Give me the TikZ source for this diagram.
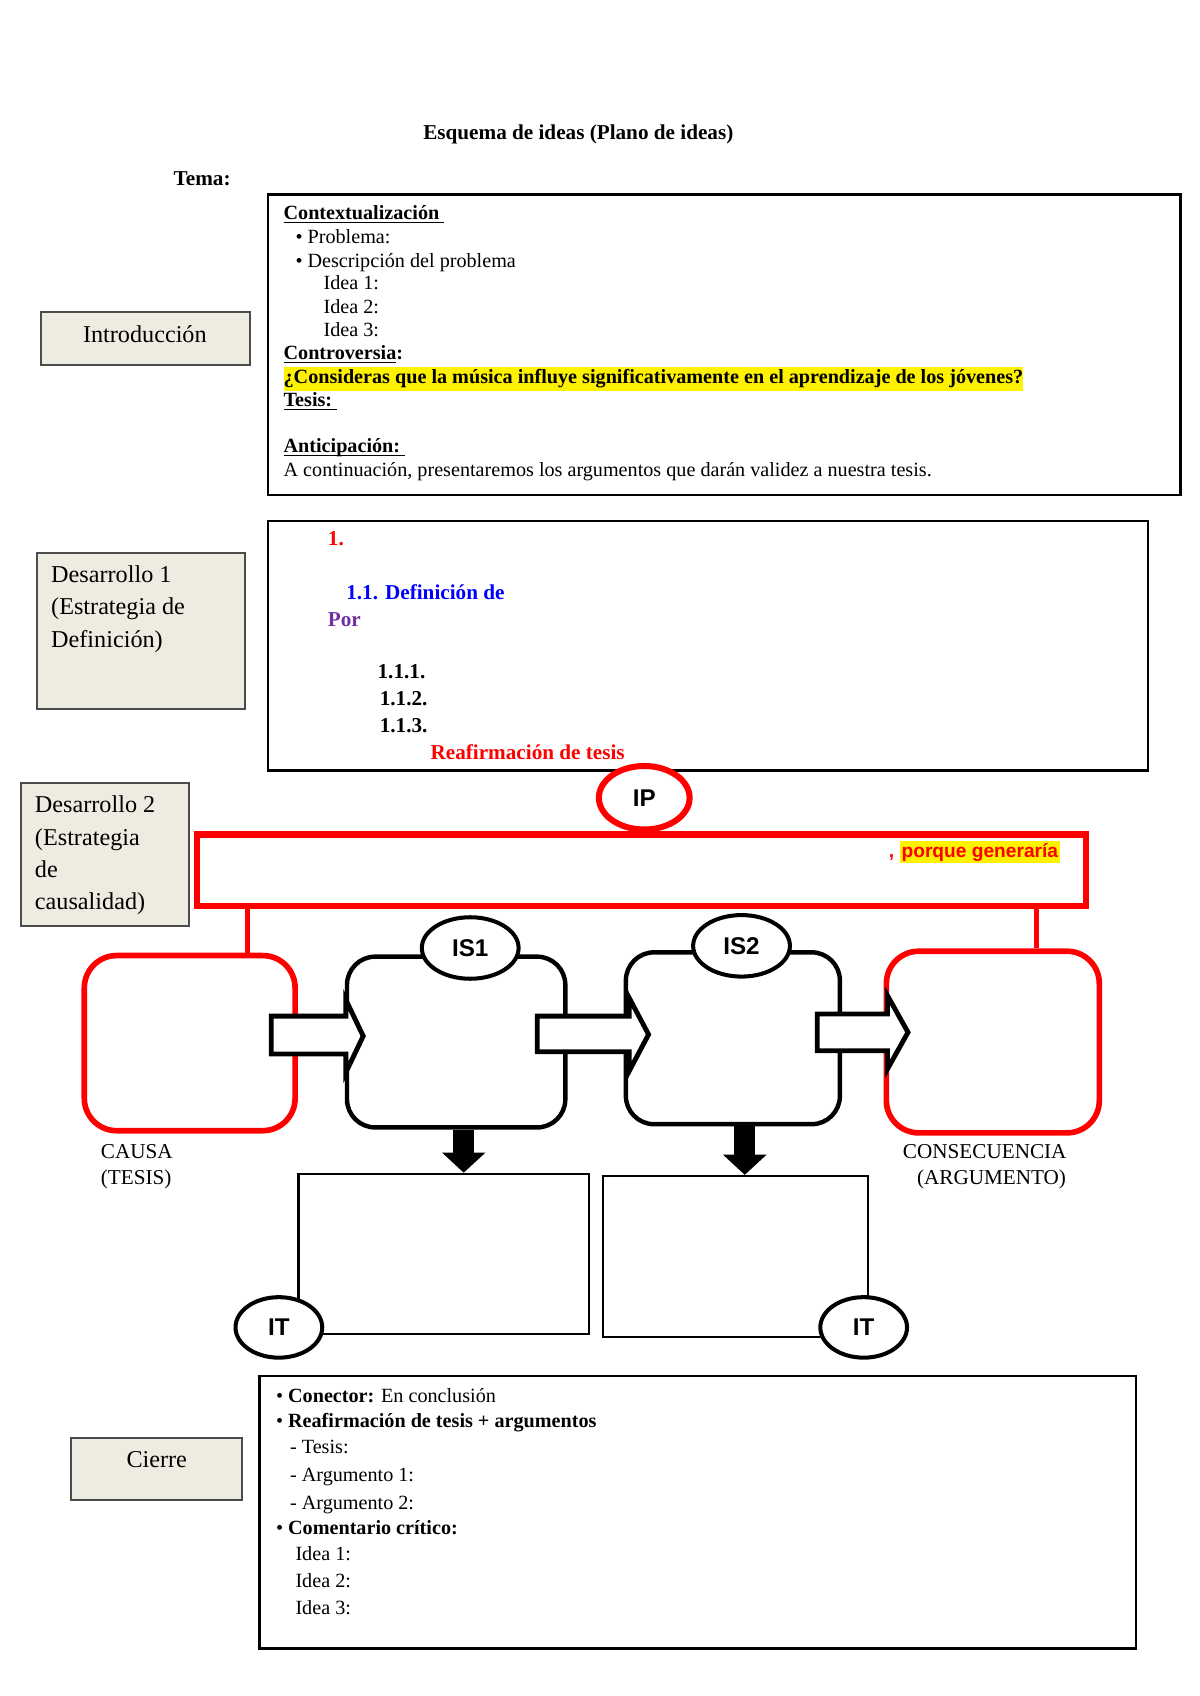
\documentclass[tikz,border=0pt]{standalone}
\usepackage{fontspec}
\setmainfont{Liberation Serif}
\newfontfamily\tagfont{Liberation Sans}
\usetikzlibrary{shapes.geometric,arrows.meta,fit}
\definecolor{boxbeige}{HTML}{EEECE1}
\definecolor{porpurple}{HTML}{7030A0}
\newcommand{\ulword}[1]{\underline{\smash{#1}}}
\tikzset{
  labelbox/.style={draw=black!70, line width=1pt, fill=boxbeige, inner sep=0pt},
  framebox/.style={draw, line width=1.4pt, inner sep=0pt},
  redframe/.style={draw=red, line width=3pt, inner sep=0pt},
  causebox/.style={draw=red, line width=2.8pt, rounded corners=16pt, inner sep=0pt},
  stepbox/.style={draw, line width=2.2pt, rounded corners=14pt, inner sep=0pt},
  itbox/.style={draw, line width=1.2pt, inner sep=0pt},
  tag/.style={ellipse, draw, fill=white, line width=2pt, inner sep=0pt,
    font=\tagfont\bfseries\fontsize{12}{13}\selectfont},
  txt/.style={anchor=base west, inner sep=0pt},
  bigtxt/.style={anchor=north west, inner sep=0pt, align=left, font=\fontsize{12}{16}\selectfont},
  blockarrow/.style={draw, fill=white, line width=2.4pt, line join=miter},
  downarrow/.style={line width=10.5pt, -{Triangle[width=21pt,length=10pt]}},
  redline/.style={draw=red, line width=2.5pt}
}
\begin{document}
\begin{tikzpicture}[x=0.536pt, y=-0.536pt, font=\fontsize{10}{12}\selectfont]
\useasboundingbox (0,0) rectangle (1110,1569);

% title
\node[font=\bfseries\fontsize{10.5}{12}\selectfont] (title) at (535,124) {Esquema de ideas (Plano de ideas)};
\node[font=\bfseries\fontsize{10.5}{12}\selectfont] (tema) at (187,165) {Tema:};

% introduccion
\node[labelbox, fit={(38,289) (231,338)}] (introlabel) {};
\node[font=\fontsize{12}{14}\selectfont] (introname) at (134,309) {Introducción};
\node[framebox, fit={(248,180) (1092,458)}] (intro) {};
\node[txt] (ctx) at (262,203) {\textbf{\ulword{Contextualización\ }}};
\node[txt] (prob) at (273,225) {\textbullet\ Problema:};
\node[txt] (desc) at (273,247) {\textbullet\ Descripción del problema};
\foreach \i/\y in {1/268, 2/290, 3/311}
  \node[txt] (idea\i) at (299,\y) {Idea \i:};
\node[txt] (contro) at (262,333) {\textbf{\ulword{Controversia}:}};
\node[txt, fill=yellow, inner ysep=1.5pt] (quest) at (262,355)
  {\textbf{¿Consideras que la música influye significativamente en el aprendizaje de los jóvenes?}};
\node[txt] (tesis) at (262,376) {\textbf{\ulword{Tesis:\ }}};
\node[txt] (antic) at (262,419) {\textbf{\ulword{Anticipación:\ }}};
\node[txt] (antxt) at (262,441) {A continuación, presentaremos los argumentos que darán validez a nuestra tesis.};

% desarrollo 1
\node[labelbox, fit={(34,512) (227,656)}] (dev1label) {};
\node[bigtxt] (dev1name) at (47,523) {Desarrollo 1\\(Estrategia de\\Definición)};
\node[framebox, fit={(248,482) (1062,713)}] (dev1) {};
\node[txt, text=red, font=\bfseries\fontsize{10.5}{12}\selectfont] (num1) at (303,505) {1.};
\node[txt, text=blue, font=\bfseries\fontsize{10.5}{12}\selectfont] (defde) at (320,555) {1.1. Definición de};
\node[txt, text=porpurple, font=\bfseries\fontsize{10.5}{12}\selectfont] (por) at (303,580) {Por};
\node[txt, font=\bfseries\fontsize{10.5}{12}\selectfont] (n111) at (349,628) {1.1.1.};
\node[txt, font=\bfseries\fontsize{10.5}{12}\selectfont] (n112) at (351,653) {1.1.2.};
\node[txt, font=\bfseries\fontsize{10.5}{12}\selectfont] (n113) at (351,678) {1.1.3.};
\node[txt, text=red, font=\bfseries\fontsize{10.5}{12}\selectfont] (reaf) at (398,703) {Reafirmación de tesis};

% desarrollo 2
\node[labelbox, fit={(19,724) (175,857)}] (dev2label) {};
\node[bigtxt] (dev2name) at (32,736) {Desarrollo 2\\(Estrategia\\de\\causalidad)};
\node[redframe, fit={(182,772) (1005,838)}] (ipbox) {};
\node[txt, text=red, font=\tagfont\bfseries\fontsize{9.5}{11}\selectfont] (porque) at (822,793)
  {,~\setlength{\fboxsep}{1pt}\colorbox{yellow}{porque generaría}};
\node[tag, draw=red, line width=3pt, minimum width=45pt, minimum height=31.5pt] (iptag) at (596,738) {IP};

\node[causebox, fit={(78,884) (273,1046)}] (causa) {};
\node[stepbox, fit={(321,885) (523,1043)}] (is1) {};
\node[stepbox, fit={(579,881) (777,1040)}] (is2) {};
\node[causebox, fit={(820,880) (1017,1048)}] (consec) {};
\draw[redline] (ipbox.south -| 229,0) -- (causa.north -| 229,0);
\draw[redline] (ipbox.south -| 959,0) -- (consec.north -| 959,0);

\foreach \xa/\xb/\xt/\ya/\yb/\ha/\hb in {251/320/336/940/975/925/992, 497/582/600/940/973/923/991, 756/821/840/938/972/921/989}
  \draw[blockarrow] (\xa,\ya) -- (\xb,\ya) -- (\xb,\ha) -- (\xt,{(\ha+\hb)/2}) -- (\xb,\hb) -- (\xb,\yb) -- (\xa,\yb) -- cycle;

\node[tag, minimum width=48pt, minimum height=30.5pt] (is1tag) at (435,877) {IS1};
\node[tag, minimum width=48pt, minimum height=30.5pt] (is2tag) at (686,875) {IS2};

\node[txt, font=\fontsize{10.5}{12}\selectfont] (causaname) at (93,1072) {CAUSA};
\node[txt, font=\fontsize{10.5}{12}\selectfont] (tesisname) at (93,1096) {(TESIS)};
\node[txt, font=\fontsize{10.5}{12}\selectfont] (consname) at (835,1072) {CONSECUENCIA};
\node[txt, font=\fontsize{10.5}{12}\selectfont] (argname) at (848,1096) {(ARGUMENTO)};

\node[itbox, fit={(276,1086) (545,1234)}] (it1) {};
\node[itbox, fit={(558,1088) (803,1237)}] (it2) {};
\draw[downarrow] (is1.south -| 429,0) -- (it1.north -| 429,0);
\draw[downarrow] (is2.south -| 689,0) -- (it2.north -| 689,0);
\node[tag, minimum width=43pt, minimum height=30pt] (it1tag) at (258,1228) {IT};
\node[tag, minimum width=43pt, minimum height=30pt] (it2tag) at (799,1228) {IT};

% cierre
\node[labelbox, fit={(66,1330) (224,1388)}] (cierrelabel) {};
\node[font=\fontsize{12}{14}\selectfont] (cierrename) at (145,1350) {Cierre};
\node[framebox, fit={(240,1273) (1051,1525)}] (cierre) {};
\node[txt] (conect) at (255,1297) {\textbullet\ \textbf{Conector:} En conclusión};
\node[txt] (reafarg) at (255,1321) {\textbullet\ \textbf{Reafirmación de tesis + argumentos}};
\node[txt] (ctesis) at (268,1345) {- Tesis:};
\node[txt] (carg1) at (268,1371) {- Argumento 1:};
\node[txt] (carg2) at (268,1396) {- Argumento 2:};
\node[txt] (coment) at (255,1420) {\textbullet\ \textbf{Comentario crítico:}};
\foreach \i/\y in {1/1444, 2/1469, 3/1494}
  \node[txt] (cidea\i) at (273,\y) {Idea \i:};
\end{tikzpicture}
\end{document}
